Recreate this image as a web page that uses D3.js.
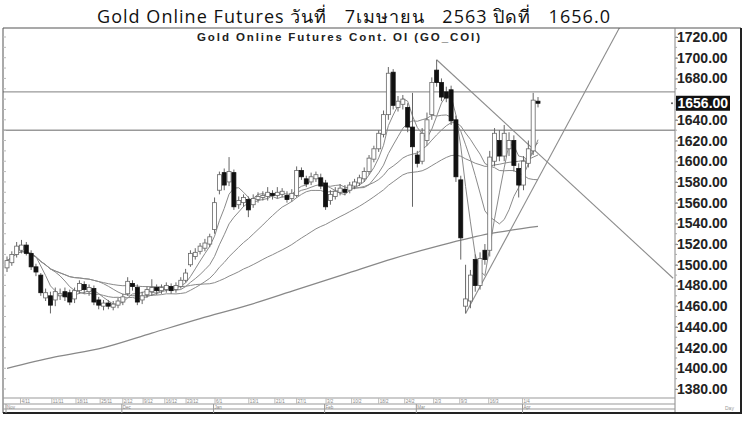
<!DOCTYPE html>
<html>
<head>
<meta charset="utf-8">
<script src="https://cdn.jsdelivr.net/npm/d3@7"></script>
<style>
  body { margin: 0; background: #fff; }
  text { font-family: "Liberation Sans", Arial, sans-serif; }
</style>
</head>
<body>
<svg id="chart" width="750" height="422"></svg>
<script>
// daily OHLC (index 0 = first candle on the left)
const opens = [1497,1502,1510,1514,1519,1511,1498,1490,1468,1470,1466,1470,1474,1473,1467,1475,1481,1474,1477,1466,
  1460,1463,1459,1461,1464,1472,1482,1478,1466,1471,1474,1478,1475,1476,1479,1476,1479,1485,1500,1508,
  1513,1516,1520,1534,1572,1589,1580,1589,1558,1560,1563,1558,1563,1565,1566,1569,1567,1568,1567,1564,
  1567,1591,1583,1580,1583,1584,1579,1562,1566,1570,1573,1572,1576,1579,1583,1590,1602,1612,1626,1645,
  1686,1652,1655,1652,1633,1606,1600,1620,1645,1688,1676,1667,1669,1640,1582,1460,1465,1505,1480,1514,
  1514,1600,1620,1605,1612,1620,1593,1577,1598,1610,1658]
const highs = [1508,1513,1522,1524,1522,1514,1501,1492,1477,1474,1478,1477,1478,1476,1478,1485,1484,1481,1480,1469,
  1466,1466,1465,1468,1472,1488,1485,1481,1474,1479,1486,1481,1481,1483,1482,1483,1488,1496,1514,1516,
  1521,1525,1530,1565,1590,1593,1604,1592,1566,1568,1566,1568,1570,1571,1575,1572,1575,1574,1571,1573,
  1595,1594,1586,1589,1590,1588,1582,1572,1575,1578,1577,1580,1583,1587,1594,1606,1615,1630,1649,1691,
  1689,1663,1664,1656,1666,1610,1632,1647,1681,1698,1680,1672,1673,1644,1586,1500,1495,1510,1512,1520,
  1610,1632,1630,1635,1628,1625,1598,1605,1620,1666,1662]
const lows = [1493,1499,1507,1511,1509,1495,1489,1470,1465,1453,1460,1466,1465,1461,1463,1472,1472,1470,1461,1457,
  1456,1457,1456,1458,1461,1470,1475,1461,1462,1468,1470,1471,1472,1473,1472,1473,1477,1483,1498,1505,
  1510,1513,1517,1530,1568,1572,1576,1553,1554,1556,1546,1555,1560,1562,1562,1563,1564,1565,1560,1561,
  1565,1582,1575,1577,1580,1573,1553,1558,1563,1567,1567,1569,1573,1576,1580,1587,1599,1609,1623,1640,
  1650,1648,1650,1628,1556,1594,1597,1615,1640,1672,1658,1657,1635,1580,1505,1453,1458,1474,1476,1500,
  1508,1595,1600,1600,1605,1590,1565,1572,1594,1606,1652]
const closes = [1504,1510,1518,1519,1511,1498,1493,1473,1473,1461,1474,1472,1469,1464,1475,1482,1476,1478,1464,1461,
  1463,1460,1462,1465,1469,1484,1479,1464,1470,1476,1478,1475,1478,1480,1475,1480,1485,1492,1511,1512,
  1518,1521,1527,1560,1587,1577,1590,1556,1562,1565,1553,1564,1566,1567,1570,1567,1570,1571,1563,1569,
  1591,1585,1578,1585,1587,1576,1556,1568,1571,1574,1570,1577,1580,1584,1590,1603,1612,1627,1645,1685,
  1654,1658,1660,1633,1614,1598,1627,1640,1676,1676,1662,1661,1639,1585,1526,1467,1490,1480,1506,1505,
  1604,1627,1605,1627,1620,1596,1577,1600,1612,1659,1656]

// long moving average, read at every 10th candle
const longAvg = [[0,1400],[10,1411],[20,1420],[30,1434],[40,1448],[50,1461],[60,1476],[70,1491],[80,1506],[90,1519],[100,1530],[110,1537]]
const maPeriods = [5, 10, 20, 40]

const priceTicks = [1380,1400,1420,1440,1460,1480,1500,1520,1540,1560,1580,1600,1620,1640,1660,1680,1700,1720]
const levels = [1667, 1630]
// trend lines as [candle index, price] pairs
const trendDown = [[89, 1698], [138, 1487]]
const trendUp = [[95, 1453], [127, 1730]]
const lastClose = 1656

const dayTicks = [[3,'4/11'],[9.5,'11/11'],[14.5,'18/11'],[19.5,'25/11'],[24.2,'2/12'],[28.4,'9/12'],[32.9,'16/12'],[37.3,'23/12'],
  [43.3,'6/1'],[50.3,'13/1'],[55.7,'21/1'],[60.2,'27/1'],[66.3,'3/2'],[71.6,'10/2'],[77.2,'18/2'],[82.6,'24/2'],
  [88.6,'2/3'],[94,'9/3'],[100,'16/3'],[107,'1/4']]
const monthTicks = [[0,'Nov'],[24,'Dec'],[43,'Jan'],[66,'Feb'],[85,'Mar'],[107,'Apr']]

const svg = d3.select('#chart')
const plotLeft = 3, plotRight = 675, plotTop = 28, plotBottom = 398

const x = d3.scaleLinear().domain([0, 110]).range([7, 538])
const y = d3.scaleLinear().domain([1380, 1720]).range([389, 37])

svg.append('rect').attr('width', 750).attr('height', 422).attr('fill', '#fff')

// title
svg.append('text')
  .attr('x', 97).attr('y', 23)
  .attr('textLength', 513).attr('lengthAdjust', 'spacing')
  .style('font-family', '"Open Sans", "Noto Sans", sans-serif')
  .style('font-size', '18px')
  .style('white-space', 'pre')
  .attr('fill', '#111')
  .text('Gold Online Futures วันที่   7เมษายน   2563 ปิดที่   1656.0')

svg.append('defs').append('clipPath').attr('id', 'plot')
  .append('rect').attr('x', plotLeft).attr('y', plotTop).attr('width', plotRight - plotLeft).attr('height', plotBottom - plotTop)

const plot = svg.append('g').attr('clip-path', 'url(#plot)')

// horizontal levels
plot.selectAll('.level').data(levels).enter().append('line')
  .attr('x1', plotLeft).attr('x2', plotRight)
  .attr('y1', d => y(d)).attr('y2', d => y(d))
  .attr('stroke', '#999').attr('stroke-width', 1.4)

// long average
const line = d3.line().x(d => x(d[0])).y(d => y(d[1]))
plot.append('path').datum(longAvg).attr('d', line.curve(d3.curveMonotoneX))
  .attr('fill', 'none').attr('stroke', '#888').attr('stroke-width', 1.2)

// moving averages of closes
const sma = p => closes.map((c, i) => {
  const w = closes.slice(Math.max(0, i - p + 1), i + 1)
  return [i, d3.mean(w)]
})
const maLine = d3.line().x(d => x(d[0])).y(d => y(d[1])).curve(d3.curveLinear)
plot.selectAll('.ma').data(maPeriods).enter().append('path')
  .attr('d', p => maLine(sma(p)))
  .attr('fill', 'none').attr('stroke', '#8a8a8a').attr('stroke-width', 1)

// trend lines
plot.selectAll('.trend').data([trendDown, trendUp]).enter().append('path')
  .attr('d', d3.line().x(d => x(d[0])).y(d => y(d[1])))
  .attr('stroke', '#8c8c8c').attr('stroke-width', 1.1).attr('fill', 'none')

// candles
const idx = d3.range(closes.length)
plot.selectAll('.wick').data(idx).enter().append('line')
  .attr('x1', i => x(i)).attr('x2', i => x(i))
  .attr('y1', i => y(highs[i])).attr('y2', i => y(lows[i]))
  .attr('stroke', '#666').attr('stroke-width', 1)
plot.selectAll('.body').data(idx).enter().append('rect')
  .attr('x', i => x(i) - 2).attr('width', 4)
  .attr('y', i => y(Math.max(opens[i], closes[i])))
  .attr('height', i => Math.max(1, Math.abs(y(opens[i]) - y(closes[i]))))
  .attr('fill', i => closes[i] < opens[i] ? '#111' : '#fff')
  .attr('stroke', i => closes[i] < opens[i] ? '#111' : '#666')
  .attr('stroke-width', 0.8)

// frame
const frame = svg.append('g').attr('stroke', '#555').attr('fill', 'none')
frame.append('line').attr('x1', plotLeft).attr('x2', 741).attr('y1', plotTop).attr('y2', plotTop).attr('stroke-width', 1.2)
frame.append('line').attr('x1', plotLeft).attr('x2', plotLeft).attr('y1', plotTop).attr('y2', 413)
frame.append('line').attr('x1', plotRight).attr('x2', plotRight).attr('y1', plotTop).attr('y2', 413).attr('stroke', '#888')
frame.append('line').attr('x1', 741).attr('x2', 741).attr('y1', plotTop).attr('y2', 414).attr('stroke', '#222').attr('stroke-width', 2)
frame.selectAll('.hr').data([plotBottom, 404, 409]).enter().append('line')
  .attr('x1', plotLeft).attr('x2', plotRight).attr('y1', d => d).attr('y2', d => d).attr('stroke', '#999')
frame.append('line').attr('x1', plotLeft).attr('x2', 742).attr('y1', 413).attr('y2', 413).attr('stroke', '#222').attr('stroke-width', 2)

// subtitle
svg.append('text').attr('x', 197).attr('y', 41)
  .attr('textLength', 283).attr('lengthAdjust', 'spacing')
  .style('font-size', '11.5px').style('font-weight', 'bold')
  .attr('fill', '#222').text('Gold Online Futures Cont. OI (GO_COI)')

// price axis on the right
const yAxis = d3.axisRight(y).tickValues(priceTicks).tickSize(3).tickFormat(d3.format('.2f'))
const ay = svg.append('g').attr('transform', `translate(${plotRight},0)`).call(yAxis)
ay.select('.domain').remove()
ay.selectAll('.tick line').attr('stroke', '#777')
ay.selectAll('.tick text').attr('x', 2)
  .style('font-size', '14px').style('font-weight', 'bold').attr('fill', '#222')
  .style('font-family', '"Liberation Sans", Arial, sans-serif')
ay.selectAll('.tick').filter(d => Math.abs(d - lastClose) < 12).remove()

// minor ticks on both edges
const minor = d3.range(1380, 1721, 10)
svg.append('g').selectAll('line').data(minor).enter().append('line')
  .attr('x1', plotRight).attr('x2', plotRight + 2).attr('y1', d => y(d)).attr('y2', d => y(d)).attr('stroke', '#aaa')
svg.append('g').selectAll('line').data(minor).enter().append('line')
  .attr('x1', plotLeft).attr('x2', plotLeft + 3).attr('y1', d => y(d)).attr('y2', d => y(d)).attr('stroke', '#bbb')

// last close tag
const tag = svg.append('g').attr('transform', `translate(${plotRight + 1},${y(lastClose)})`)
tag.append('rect').attr('x', 0).attr('y', -7.5).attr('width', 54).attr('height', 15).attr('fill', '#111')
tag.append('text').attr('x', 1.5).attr('y', 5).attr('fill', '#fff')
  .style('font-size', '14px').style('font-weight', 'bold').text(d3.format('.2f')(lastClose))
svg.append('circle').attr('cx', plotRight - 3).attr('cy', y(lastClose)).attr('r', 1).attr('fill', '#555')

// date rows
const dates = svg.append('g').style('font-size', '4.5px').attr('fill', '#888')
dates.selectAll('.d').data(dayTicks).enter().append('text')
  .attr('x', d => x(d[0])).attr('y', 403).text(d => d[1])
dates.selectAll('.dt').data(dayTicks).enter().append('line')
  .attr('x1', d => x(d[0]) - 1).attr('x2', d => x(d[0]) - 1).attr('y1', plotBottom).attr('y2', 404).attr('stroke', '#bbb')
dates.selectAll('.m').data(monthTicks).enter().append('text')
  .attr('x', d => x(d[0])).attr('y', 409).text(d => d[1])
dates.selectAll('.mt').data(monthTicks).enter().append('line')
  .attr('x1', d => x(d[0]) - 1).attr('x2', d => x(d[0]) - 1).attr('y1', 404).attr('y2', 413).attr('stroke', '#999')
svg.append('text').attr('x', 725).attr('y', 410).style('font-size', '5px').attr('fill', '#999').text('Day')
</script>
</body>
</html>
